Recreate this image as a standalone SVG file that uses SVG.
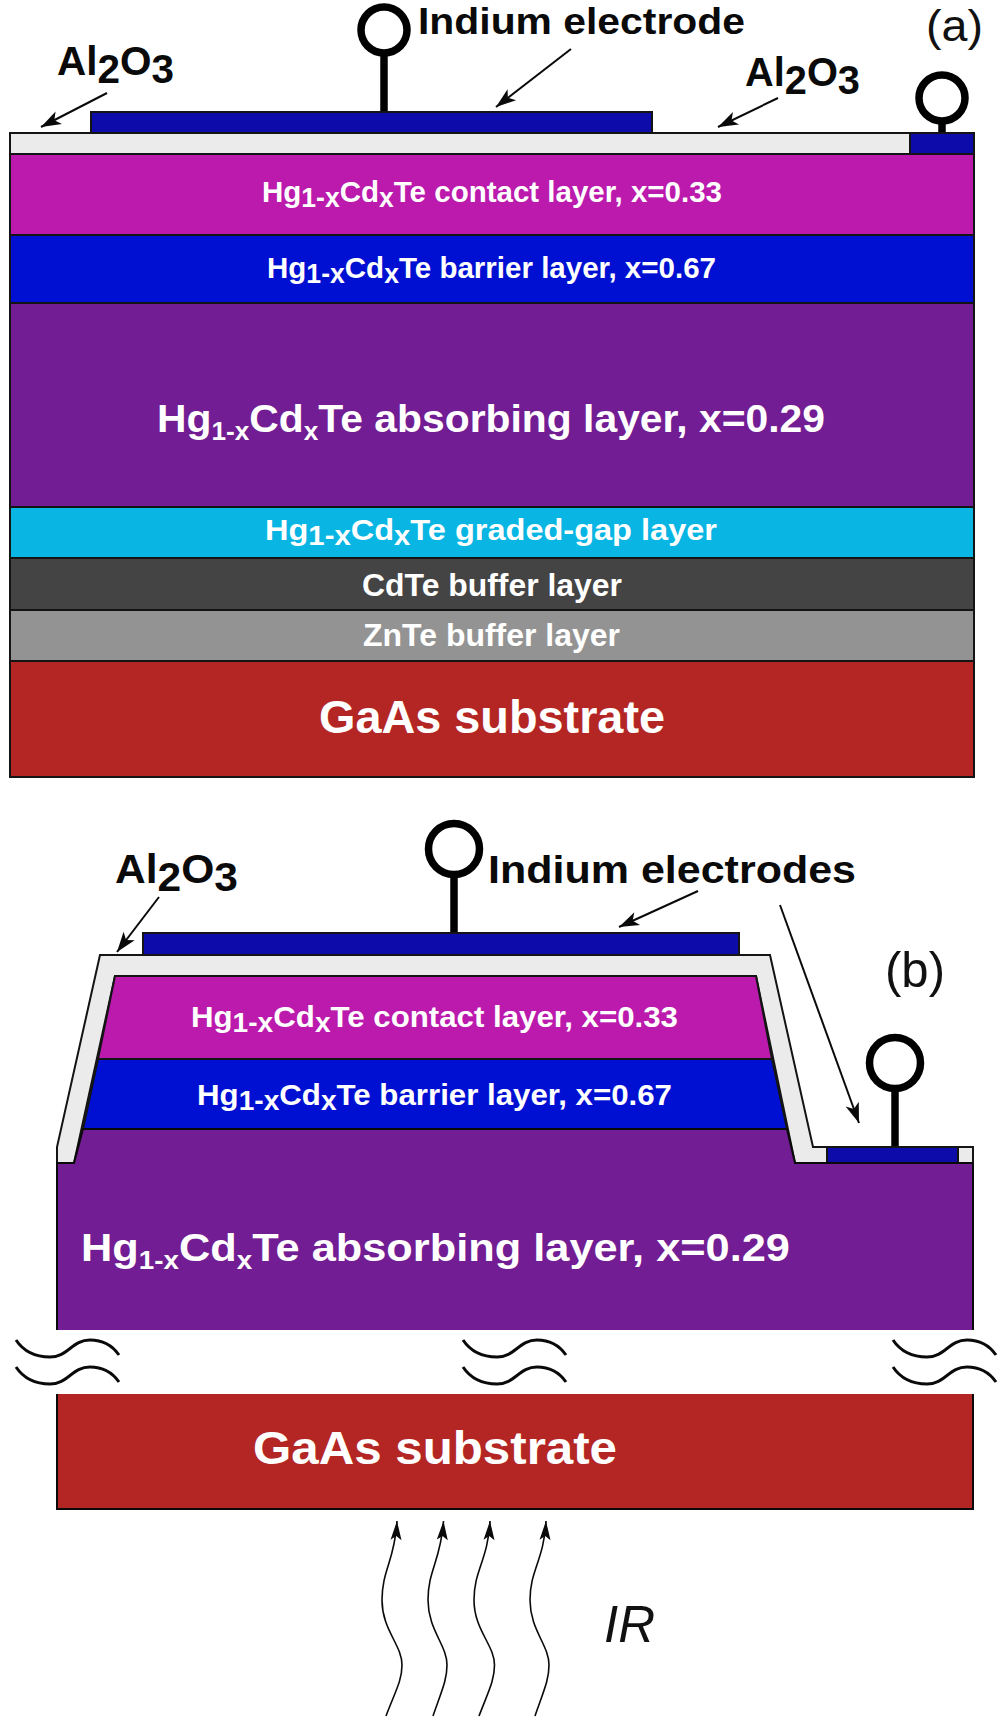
<svg xmlns="http://www.w3.org/2000/svg" width="1000" height="1719" viewBox="0 0 1000 1719">
<style>
text{font-family:"Liberation Sans",Arial,sans-serif;font-weight:bold;fill:#fff}
.lb{fill:#0a0a0a}
.reg{font-weight:normal;fill:#111;font-size:50px}
.ly{stroke:#141414;stroke-width:2}
.m{font-size:30px}.sb{font-size:27px}
.ab{font-size:39px}.ss{font-size:25px}
.al{font-size:40px}
.ar{fill:none;stroke:#0a0a0a;stroke-width:2}
.ir{fill:none;stroke:#0a0a0a;stroke-width:1.6}
.wv{fill:none;stroke:#0a0a0a;stroke-width:3}
.ring{fill:#fff;stroke:#000;stroke-width:7.5}
.stem{stroke:#000;stroke-width:7.5}
.strip{fill:#ebebeb}.el{fill:#0d0cab}.ct{fill:#bb1aad}.br{fill:#0010d2}.abs{fill:#721d93}.gaas{fill:#b42624}
</style>
<defs>
<marker id="head" markerUnits="userSpaceOnUse" markerWidth="24" markerHeight="18" refX="21" refY="8" orient="auto"><path d="M21 8L1 1L6 8L1 15Z" fill="#0a0a0a"/></marker>
<marker id="headIr" markerUnits="userSpaceOnUse" markerWidth="22" markerHeight="14" refX="20" refY="7" orient="auto"><path d="M20 7L1 1.500L5 7L1 12.500Z" fill="#0a0a0a"/></marker>
<path id="wave" class="wv" d="M16 1340C24 1352 36 1357 50 1357C68 1357 72 1340 90 1340C102 1340 112 1345 119 1355"/>
</defs>

<g id="panel-a">
<g id="a-strip"><rect class="ly strip" x="10" y="133" width="900" height="21"/></g>
<g id="a-electrode-main"><line class="stem" x1="384" y1="55" x2="384" y2="112"/><circle class="ring" cx="384" cy="30" r="23"/><rect class="ly el" x="91" y="112" width="561" height="21"/></g>
<g id="a-electrode-side"><line class="stem" x1="942" y1="122" x2="942" y2="133"/><circle class="ring" cx="942" cy="98" r="23"/><rect class="ly el" x="910" y="133" width="64" height="21"/></g>
<g id="a-contact"><rect class="ly ct" x="10" y="154" width="964" height="81"/>
<text x="262" y="202" class="m" textLength="460" lengthAdjust="spacingAndGlyphs">Hg<tspan class="sb" dy="5">1-x</tspan><tspan dy="-5">Cd</tspan><tspan class="sb" dy="5">x</tspan><tspan dy="-5">Te contact layer, x=0.33</tspan></text></g>
<g id="a-barrier"><rect class="ly br" x="10" y="235" width="964" height="68"/>
<text x="267" y="278" class="m" textLength="449" lengthAdjust="spacingAndGlyphs">Hg<tspan class="sb" dy="5">1-x</tspan><tspan dy="-5">Cd</tspan><tspan class="sb" dy="5">x</tspan><tspan dy="-5">Te barrier layer, x=0.67</tspan></text></g>
<g id="a-absorbing"><rect class="ly abs" x="10" y="303" width="964" height="204"/>
<text x="157" y="432" class="ab" textLength="668" lengthAdjust="spacingAndGlyphs">Hg<tspan class="ss" dy="8">1-x</tspan><tspan dy="-8">Cd</tspan><tspan class="ss" dy="8">x</tspan><tspan dy="-8">Te absorbing layer, x=0.29</tspan></text></g>
<g id="a-graded"><rect class="ly" fill="#09b5e3" x="10" y="507" width="964" height="51"/>
<text x="265" y="540" class="m" textLength="452" lengthAdjust="spacingAndGlyphs">Hg<tspan class="sb" dy="5">1-x</tspan><tspan dy="-5">Cd</tspan><tspan class="sb" dy="5">x</tspan><tspan dy="-5">Te graded-gap layer</tspan></text></g>
<g id="a-cdte"><rect class="ly" fill="#444444" x="10" y="558" width="964" height="52"/>
<text x="362" y="596" font-size="32" textLength="260" lengthAdjust="spacingAndGlyphs">CdTe buffer layer</text></g>
<g id="a-znte"><rect class="ly" fill="#939393" x="10" y="610" width="964" height="51"/>
<text x="363" y="646" font-size="32" textLength="257" lengthAdjust="spacingAndGlyphs">ZnTe buffer layer</text></g>
<g id="a-gaas"><rect class="ly gaas" x="10" y="661" width="964" height="116"/>
<text x="319" y="733" font-size="46" textLength="346" lengthAdjust="spacingAndGlyphs">GaAs substrate</text></g>
<text class="lb" x="418" y="34" font-size="36" textLength="327" lengthAdjust="spacingAndGlyphs">Indium electrode</text>
<text class="lb al" x="57" y="75" textLength="117" lengthAdjust="spacingAndGlyphs">Al<tspan dy="8">2</tspan><tspan dy="-8">O</tspan><tspan dy="8">3</tspan></text>
<text class="lb al" x="745" y="86" textLength="115" lengthAdjust="spacingAndGlyphs">Al<tspan dy="8">2</tspan><tspan dy="-8">O</tspan><tspan dy="8">3</tspan></text>
<text x="926" y="41" font-size="45" textLength="57" lengthAdjust="spacingAndGlyphs" style="font-weight:normal;fill:#111">(a)</text>
</g>

<g id="panel-b">
<g id="b-strip"><path class="ly strip" d="M57 1163V1147L100 955H770L813 1147H973V1163H795L756 976H115L74 1163Z"/></g>
<g id="b-electrode-main"><line class="stem" x1="454" y1="877" x2="454" y2="933"/><circle class="ring" cx="454" cy="849" r="25.500"/><rect class="ly el" x="143" y="933" width="596" height="22"/></g>
<g id="b-electrode-side"><line class="stem" x1="895" y1="1090" x2="895" y2="1147"/><circle class="ring" cx="895" cy="1063" r="25.500"/><rect class="ly el" x="827" y="1147" width="131" height="16"/></g>
<g id="b-contact"><path class="ly ct" d="M115 976H756L772 1059H98Z"/>
<text x="191" y="1027" class="m" textLength="487" lengthAdjust="spacingAndGlyphs">Hg<tspan class="sb" dy="5">1-x</tspan><tspan dy="-5">Cd</tspan><tspan class="sb" dy="5">x</tspan><tspan dy="-5">Te contact layer, x=0.33</tspan></text></g>
<g id="b-barrier"><path class="ly br" d="M98 1059H772L787 1129H83Z"/>
<text x="197" y="1105" class="m" textLength="475" lengthAdjust="spacingAndGlyphs">Hg<tspan class="sb" dy="5">1-x</tspan><tspan dy="-5">Cd</tspan><tspan class="sb" dy="5">x</tspan><tspan dy="-5">Te barrier layer, x=0.67</tspan></text></g>
<g id="b-absorbing"><path class="abs" d="M57 1163H74L83 1129H787L795 1163H973V1330H57Z"/>
<path class="ar" d="M57 1330V1163H74L83 1129H787L795 1163H973V1330"/>
<text x="81" y="1261" class="ab" textLength="709" lengthAdjust="spacingAndGlyphs">Hg<tspan class="ss" dy="8">1-x</tspan><tspan dy="-8">Cd</tspan><tspan class="ss" dy="8">x</tspan><tspan dy="-8">Te absorbing layer, x=0.29</tspan></text></g>
<g id="b-gaas"><rect class="gaas" x="57" y="1394" width="916" height="115"/>
<path class="ar" d="M57 1394V1509H973V1394"/>
<text x="253" y="1464" font-size="46" textLength="364" lengthAdjust="spacingAndGlyphs">GaAs substrate</text></g>
<g id="b-breaks"><use href="#wave"/><use href="#wave" y="27"/><use href="#wave" x="447"/><use href="#wave" x="447" y="27"/><use href="#wave" x="877"/><use href="#wave" x="877" y="27"/></g>
<text class="lb al" x="115" y="883" textLength="123" lengthAdjust="spacingAndGlyphs">Al<tspan dy="8">2</tspan><tspan dy="-8">O</tspan><tspan dy="8">3</tspan></text>
<text class="lb" x="488" y="883" font-size="39" textLength="368" lengthAdjust="spacingAndGlyphs">Indium electrodes</text>
<text class="reg" x="885" y="987" textLength="60" lengthAdjust="spacingAndGlyphs">(b)</text>
<text x="604" y="1642" font-size="51" font-style="italic" style="font-weight:normal;fill:#111">IR</text>
</g>

<g id="connectors">
<line class="ar" x1="107" y1="93" x2="41" y2="127" marker-end="url(#head)"/>
<line class="ar" x1="571" y1="49" x2="496" y2="107" marker-end="url(#head)"/>
<line class="ar" x1="778" y1="98" x2="718" y2="127" marker-end="url(#head)"/>
<line class="ar" x1="159" y1="897" x2="117" y2="952" marker-end="url(#head)"/>
<line class="ar" x1="698" y1="891" x2="619" y2="927" marker-end="url(#head)"/>
<line class="ar" x1="780" y1="905" x2="859" y2="1123" marker-end="url(#head)"/>
<path class="ir" d="M386 1716C396 1690 402 1680 402 1665C402 1645 382 1630 382 1600C382 1570 395 1560 397 1521" marker-end="url(#headIr)"/>
<path class="ir" d="M433 1716C442 1690 447 1680 447 1665C447 1645 428 1630 428 1600C428 1570 441 1560 443.500 1521" marker-end="url(#headIr)"/>
<path class="ir" d="M479 1716C489 1690 494.500 1680 494.500 1665C494.500 1645 474 1630 474 1600C474 1570 488 1560 490 1521" marker-end="url(#headIr)"/>
<path class="ir" d="M535 1716C544 1690 549 1680 549 1665C549 1645 530 1630 530 1600C530 1570 544 1560 546 1521" marker-end="url(#headIr)"/>
</g>
</svg>
